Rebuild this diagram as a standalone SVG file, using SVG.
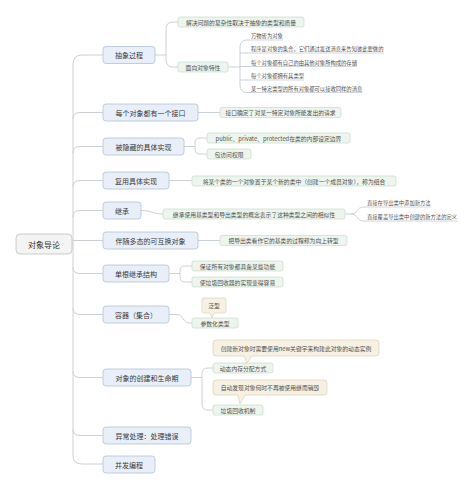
<svg xmlns="http://www.w3.org/2000/svg" width="474" height="489" viewBox="0 0 474 489">
<style>
text{font-family:"Noto Sans CJK SC","Noto Sans",sans-serif;dominant-baseline:central}
.root rect{fill:#f4f4f4;stroke:#c2c2c2;stroke-width:0.8}
.root text{font-size:8px;fill:#333;text-anchor:middle}
.l1 rect{fill:#e9eff8;stroke:#b3c1d4;stroke-width:0.8}
.l1 text{font-size:7px;fill:#3a3a3a;text-anchor:middle}
.l2 rect{fill:#edf5ee;stroke:#c8dbca;stroke-width:0.7}
.l2 text{font-size:5.8px;fill:#505050;text-anchor:middle}
.l3 text{font-size:5.3px;fill:#505050}
.l3 line{stroke:#c6ccd2;stroke-width:0.8}
.co path{fill:#f6f1e3;stroke:#dcd3bb;stroke-width:0.7}
.co text{font-size:5.8px;fill:#505050;text-anchor:middle}
#connectors path{fill:none;stroke:#c6ccd2;stroke-width:0.9}
</style>
<g id="connectors">
<path d="M72,244 H73"/>
<path d="M103,55 H82 Q73,55 73,64 V455 Q73,464 82,464 H103"/>
<path d="M103,112.5 H80 Q73,112.5 73,119"/>
<path d="M103,146.5 H80 Q73,146.5 73,153"/>
<path d="M103,180.5 H80 Q73,180.5 73,187"/>
<path d="M103,210.5 H80 Q73,210.5 73,217"/>
<path d="M103,240.5 H73"/>
<path d="M103,273.5 H80 Q73,273.5 73,267"/>
<path d="M103,314.5 H80 Q73,314.5 73,308"/>
<path d="M103,377.5 H80 Q73,377.5 73,371"/>
<path d="M103,435.5 H80 Q73,435.5 73,429"/>
<path d="M155,55 H166 M178,22 H173 Q166,22 166,29 V60 Q166,67 173,67 H178"/>
<path d="M198,112.5 H220"/>
<path d="M184,146.5 H195 M207,138 H200 Q195,138 195,143 V149 Q195,154 200,154 H207"/>
<path d="M169,180.5 H192"/>
<path d="M141,210.5 C152,210.5 152,214 163,214"/>
<path d="M198,240.5 H220"/>
<path d="M169,273.5 H180 M192,266 H185 Q180,266 180,271 V277 Q180,282 185,282 H192"/>
<path d="M169,314.5 H177 C184,314.5 182,323 190,323 H192"/>
<path d="M191,377.5 H202 M213,368 H208 Q202,368 202,374 V404 Q202,410 208,410 H213"/>
<path d="M228,67 H240 M251,40 H247 Q240,40 240,47 V85 Q240,92.5 247,92.5 H251 M240,53 H251 M240,66.5 H251 M240,80 H251"/>
<path d="M345,214 H351 C358,214 356,207 364,207 H367 M351,214 C358,214 356,221 364,221 H367"/>
</g>
<g id="root" class="root"><rect x="16" y="234" width="56" height="20" rx="4"/><text x="44" y="244">对象导论</text></g>
<g id="n1" class="l1"><rect x="103" y="46.5" width="52" height="17" rx="3"/><text x="129" y="55">抽象过程</text></g>
<g id="n2" class="l1"><rect x="103" y="104" width="95" height="17" rx="3"/><text x="150.5" y="112.5">每个对象都有一个接口</text></g>
<g id="n3" class="l1"><rect x="103" y="138" width="81" height="17" rx="3"/><text x="143.5" y="146.5">被隐藏的具体实现</text></g>
<g id="n4" class="l1"><rect x="103" y="172" width="66" height="17" rx="3"/><text x="136" y="180.5">复用具体实现</text></g>
<g id="n5" class="l1"><rect x="103" y="202" width="38" height="17" rx="3"/><text x="122" y="210.5">继承</text></g>
<g id="n6" class="l1"><rect x="103" y="232" width="95" height="17" rx="3"/><text x="150.5" y="240.5">伴随多态的可互换对象</text></g>
<g id="n7" class="l1"><rect x="103" y="265" width="66" height="17" rx="3"/><text x="136" y="273.5">单根继承结构</text></g>
<g id="n8" class="l1"><rect x="103" y="306" width="66" height="17" rx="3"/><text x="136" y="314.5">容器（集合）</text></g>
<g id="n9" class="l1"><rect x="103" y="369" width="88" height="17" rx="3"/><text x="147" y="377.5">对象的创建和生命期</text></g>
<g id="n10" class="l1"><rect x="103" y="427" width="88" height="17" rx="3"/><text x="147" y="435.5">异常处理：处理错误</text></g>
<g id="n11" class="l1"><rect x="103" y="456" width="52" height="17" rx="3"/><text x="129" y="464.5">并发编程</text></g>
<g id="n1a" class="l2"><rect x="178" y="17" width="126" height="10" rx="2"/><text x="241" y="22">解决问题的复杂性取决于抽象的类型和质量</text></g>
<g id="n1b" class="l2"><rect x="178" y="62" width="50" height="10" rx="2"/><text x="203" y="67">面向对象特性</text></g>
<g id="n1b1" class="l3"><text x="251" y="36">万物皆为对象</text><line x1="251" y1="40" x2="283" y2="40"/></g>
<g id="n1b2" class="l3"><text x="251" y="49">程序是对象的集合，它们通过发送消息来告知彼此要做的</text><line x1="251" y1="53" x2="384" y2="53"/></g>
<g id="n1b3" class="l3"><text x="251" y="62.5">每个对象都有自己的由其他对象所构成的存储</text><line x1="251" y1="66.5" x2="357" y2="66.5"/></g>
<g id="n1b4" class="l3"><text x="251" y="76">每个对象都拥有其类型</text><line x1="251" y1="80" x2="304" y2="80"/></g>
<g id="n1b5" class="l3"><text x="251" y="88.5">某一特定类型的所有对象都可以接收同样的消息</text><line x1="251" y1="92.5" x2="362" y2="92.5"/></g>
<g id="n2a" class="l2"><rect x="220" y="107.5" width="121" height="10" rx="2"/><text x="280.5" y="112.5">接口确定了对某一特定对象所能发出的请求</text></g>
<g id="n3a" class="l2"><rect x="207" y="133" width="143" height="10" rx="2"/><text x="278.5" y="138">public、private、protected在类的内部设定边界</text></g>
<g id="n3b" class="l2"><rect x="207" y="149" width="44" height="10" rx="2"/><text x="229" y="154">包访问权限</text></g>
<g id="n4a" class="l2"><rect x="192" y="176" width="204" height="10" rx="2"/><text x="294" y="181">将某个类的一个对象置于某个新的类中（创建一个成员对象），称为组合</text></g>
<g id="n5a" class="l2"><rect x="163" y="209" width="182" height="10" rx="2"/><text x="254" y="214">继承使用基类型和导出类型的概念表示了这种类型之间的相似性</text></g>
<g id="n5a1" class="l3"><text x="367" y="203">直接在导出类中添加新方法</text><line x1="367" y1="207" x2="431" y2="207"/></g>
<g id="n5a2" class="l3"><text x="367" y="217">直接覆盖导出类中创建的新方法的定义</text><line x1="367" y1="221" x2="458" y2="221"/></g>
<g id="n6a" class="l2"><rect x="220" y="235.5" width="127" height="10" rx="2"/><text x="283.5" y="240.5">把导出类看作它的基类的过程称为向上转型</text></g>
<g id="n7a" class="l2"><rect x="192" y="261" width="91" height="10" rx="2"/><text x="237.5" y="266">保证所有对象都具备某些功能</text></g>
<g id="n7b" class="l2"><rect x="192" y="277" width="91" height="10" rx="2"/><text x="237.5" y="282">使垃圾回收器的实现变得容易</text></g>
<g id="n8a" class="l2"><rect x="192" y="318" width="46" height="10" rx="2"/><text x="215" y="323">参数化类型</text></g>
<g id="n8c" class="co"><path d="M204,298 H224 Q226,298 226,300 V311 Q226,313 224,313 H214 L212,318 L210,313 H204 Q202,313 202,311 V300 Q202,298 204,298 Z"/><text x="214" y="305.5">泛型</text></g>
<g id="n9a" class="l2"><rect x="213" y="363" width="60" height="10" rx="2"/><text x="243" y="368">动态内存分配方式</text></g>
<g id="n9b" class="l2"><rect x="213" y="405" width="50" height="10" rx="2"/><text x="238" y="410">垃圾回收机制</text></g>
<g id="n9ac" class="co"><path d="M216,340 H376 Q379,340 379,343 V353 Q379,356 376,356 H252 L247,363 L244,356 H216 Q213,356 213,353 V343 Q213,340 216,340 Z"/><text x="296" y="348">创建新对象时需要使用new关键字来构建此对象的动态实例</text></g>
<g id="n9bc" class="co"><path d="M216,380 H324 Q327,380 327,383 V392 Q327,395 324,395 H245 L240,404 L238,395 H216 Q213,395 213,392 V383 Q213,380 216,380 Z"/><text x="270" y="387.5">自动发现对象何时不再被使用继而销毁</text></g>
</svg>
